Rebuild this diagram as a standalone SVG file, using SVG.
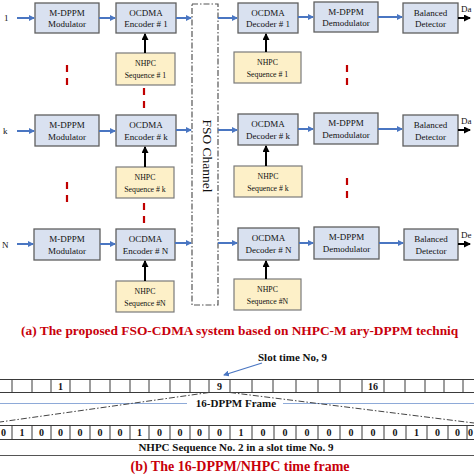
<svg xmlns="http://www.w3.org/2000/svg" width="474" height="474" viewBox="0 0 474 474">
<style>
text{font-family:"Liberation Serif","Times New Roman",serif;fill:#111}
.bx{fill:#d9e1f0;stroke:#5f5f5f;stroke-width:1.3}
.sq{fill:#fdf0c8;stroke:#7a7a7a;stroke-width:1.2}
.t9{font-size:9px;text-anchor:middle}
.t8{font-size:7.8px;text-anchor:middle}
.ba{stroke:#4a76c2;stroke-width:2;fill:none;marker-end:url(#ab)}
.ka{stroke:#000;stroke-width:2;fill:none;marker-end:url(#ak)}
.rd{stroke:#c00000;stroke-width:2.2;stroke-dasharray:7 6;fill:none}
.cell{fill:none;stroke:#3a3a3a;stroke-width:1}
.d{font-size:10px;font-weight:bold;text-anchor:middle}
.red{fill:#c8000a;font-weight:bold;font-size:14px}
</style>
<defs>
<marker id="ab" markerWidth="6" markerHeight="6" refX="5" refY="3" orient="auto" markerUnits="userSpaceOnUse"><path d="M0,0 L6,3 L0,6 z" fill="#4a76c2"/></marker>
<marker id="ak" markerWidth="7" markerHeight="7" refX="6" refY="3.5" orient="auto" markerUnits="userSpaceOnUse"><path d="M0,0 L7,3.5 L0,7 z" fill="#000"/></marker>
</defs>
<rect width="474" height="474" fill="#fff"/>

<!-- FSO channel -->
<g id="fso">
<rect x="192" y="4" width="26" height="301" fill="none" stroke="#555" stroke-width="1.2" stroke-dasharray="6 2 1.5 2"/>
<text transform="translate(203,156) rotate(90)" font-size="13.5px" text-anchor="middle">FSO Channel</text>
</g>

<!-- Row 1 -->
<text x="4" y="21" font-size="9px">1</text>
<g id="mod1"><rect class="bx" x="35" y="3" width="64" height="30"/><text class="t9" x="67" y="15.5">M-DPPM</text><text class="t9" x="67" y="27">Modulator</text></g>
<g id="enc1"><rect class="bx" x="116" y="3" width="60" height="30"/><text class="t9" x="146" y="15.5">OCDMA</text><text class="t9" x="146" y="27">Encoder # 1</text></g>
<g id="seqe1"><rect class="sq" x="116" y="53" width="59" height="32"/><text class="t8" x="145.5" y="66">NHPC</text><text class="t8" x="145.5" y="78">Sequence # 1</text></g>
<g id="dec1"><rect class="bx" x="238" y="3" width="60" height="30"/><text class="t9" x="268" y="15.5">OCDMA</text><text class="t9" x="268" y="27">Decoder # 1</text></g>
<g id="dem1"><rect class="bx" x="314" y="2" width="64" height="30"/><text class="t9" x="346" y="14.5">M-DPPM</text><text class="t9" x="346" y="26">Demodulator</text></g>
<g id="bal1"><rect class="bx" x="403" y="3" width="55" height="30"/><text class="t9" x="430.5" y="15.5">Balanced</text><text class="t9" x="430.5" y="27">Detector</text></g>
<g id="seqd1"><rect class="sq" x="234" y="52" width="67" height="31"/><text class="t8" x="267.5" y="65">NHPC</text><text class="t8" x="267.5" y="77">Sequence # 1</text></g>
<text x="461" y="12" font-size="9px">Da</text>

<!-- Row k -->
<text x="3" y="134" font-size="9px">k</text>
<g id="modk"><rect class="bx" x="35" y="115" width="64" height="31"/><text class="t9" x="67" y="128">M-DPPM</text><text class="t9" x="67" y="139.5">Modulator</text></g>
<g id="enck"><rect class="bx" x="116" y="115" width="60" height="31"/><text class="t9" x="146" y="128">OCDMA</text><text class="t9" x="146" y="139.5">Encoder # k</text></g>
<g id="seqek"><rect class="sq" x="116" y="167" width="58" height="31"/><text class="t8" x="145" y="180">NHPC</text><text class="t8" x="145" y="192">Sequence # k</text></g>
<g id="deck"><rect class="bx" x="238" y="114" width="60" height="31"/><text class="t9" x="268" y="127">OCDMA</text><text class="t9" x="268" y="138.5">Decoder # k</text></g>
<g id="demk"><rect class="bx" x="314" y="113" width="64" height="31"/><text class="t9" x="346" y="126">M-DPPM</text><text class="t9" x="346" y="137.5">Demodulator</text></g>
<g id="balk"><rect class="bx" x="403" y="115" width="55" height="31"/><text class="t9" x="430.5" y="128">Balanced</text><text class="t9" x="430.5" y="139.5">Detector</text></g>
<g id="seqdk"><rect class="sq" x="234" y="166" width="68" height="31"/><text class="t8" x="268" y="179">NHPC</text><text class="t8" x="268" y="191">Sequence # k</text></g>
<text x="461" y="124" font-size="9px">Da</text>

<!-- Row N -->
<text x="2" y="248" font-size="9px">N</text>
<g id="modN"><rect class="bx" x="34" y="229" width="66" height="31"/><text class="t9" x="67" y="242">M-DPPM</text><text class="t9" x="67" y="253.5">Modulator</text></g>
<g id="encN"><rect class="bx" x="116" y="229" width="59" height="31"/><text class="t9" x="145.5" y="242">OCDMA</text><text class="t9" x="145.5" y="253.5">Encoder # N</text></g>
<g id="seqeN"><rect class="sq" x="116" y="281" width="58" height="31"/><text class="t8" x="145" y="294">NHPC</text><text class="t8" x="145" y="306">Sequence #N</text></g>
<g id="decN"><rect class="bx" x="238" y="228" width="61" height="32"/><text class="t9" x="268.5" y="241">OCDMA</text><text class="t9" x="268.5" y="253">Decoder # N</text></g>
<g id="demN"><rect class="bx" x="314" y="227" width="65" height="32"/><text class="t9" x="346.5" y="240">M-DPPM</text><text class="t9" x="346.5" y="252">Demodulator</text></g>
<g id="balN"><rect class="bx" x="404" y="229" width="54" height="31"/><text class="t9" x="431" y="242">Balanced</text><text class="t9" x="431" y="253.5">Detector</text></g>
<g id="seqdN"><rect class="sq" x="234" y="279" width="67" height="31"/><text class="t8" x="267.5" y="292">NHPC</text><text class="t8" x="267.5" y="304">Sequence #N</text></g>
<text x="461" y="238" font-size="9px">De</text>

<!-- connectors -->
<g id="connectors">
<path class="ba" d="M17,18 H34"/><path class="ba" d="M99,18 H115"/><path class="ba" d="M176,18 H191"/><path class="ba" d="M218,18 H237"/><path class="ba" d="M298,17 H313"/><path class="ba" d="M378,17 H402"/>
<path class="ka" d="M458,18 H470"/><path class="ka" d="M145,53 V34"/><path class="ka" d="M266,52 V34"/>
<path class="ba" d="M17,131 H34"/><path class="ba" d="M99,131 H115"/><path class="ba" d="M176,130 H191"/><path class="ba" d="M218,130 H237"/><path class="ba" d="M298,129 H313"/><path class="ba" d="M378,129 H402"/>
<path class="ka" d="M458,130 H470"/><path class="ka" d="M145,167 V147"/><path class="ka" d="M266,166 V146"/>
<path class="ba" d="M17,244 H33"/><path class="ba" d="M100,244 H115"/><path class="ba" d="M175,243 H191"/><path class="ba" d="M218,243 H237"/><path class="ba" d="M299,243 H313"/><path class="ba" d="M379,243 H403"/>
<path class="ka" d="M458,244 H470"/><path class="ka" d="M145,281 V261"/><path class="ka" d="M266,279 V261"/>
</g>

<!-- red continuation dashes -->
<g id="dots">
<path class="rd" d="M67,65 V87"/><path class="rd" d="M67,182 V204"/>
<path class="rd" d="M144,88 V111"/><path class="rd" d="M144,203 V226"/>
<path class="rd" d="M347,65 V87"/><path class="rd" d="M347,178 V200"/>
</g>

<text class="red" x="21" y="335" style="font-size:13.4px">(a) The proposed FSO-CDMA system based on NHPC-M ary-DPPM techniq</text>

<!-- (b) time frame -->
<g id="frame">
<text x="258" y="361" font-size="11px" font-weight="bold">Slot time No, 9</text>
<path d="M262,363 L224,375" stroke="#4a76c2" stroke-width="1.2" marker-end="url(#ab)"/>
<path class="cell" d="M0,379.5 H474 M0,392.5 H474 M12,379.5 V392.5 M32,379.5 V392.5 M51,379.5 V392.5 M70,379.5 V392.5 M90,379.5 V392.5 M110,379.5 V392.5 M130,379.5 V392.5 M149,379.5 V392.5 M170,379.5 V392.5 M190,379.5 V392.5 M209,379.5 V392.5 M230,379.5 V392.5 M252,379.5 V392.5 M273,379.5 V392.5 M296,379.5 V392.5 M318,379.5 V392.5 M340,379.5 V392.5 M362,379.5 V392.5 M384,379.5 V392.5 M405,379.5 V392.5 M425,379.5 V392.5 M444,379.5 V392.5 M463,379.5 V392.5"/>
<text class="d" x="60.5" y="389.5">1</text><text class="d" x="219.5" y="389.5">9</text><text class="d" x="373" y="389.5">16</text>
<path d="M0,403.5 H187 M283,403.5 H474" stroke="#8eaad8" stroke-width="1.2"/>
<text x="236" y="407" font-size="11px" font-weight="bold" text-anchor="middle">16-DPPM Frame</text>
<path d="M209,392.5 L0,422 M230,392.5 L474,423" stroke="#444" stroke-width="1" stroke-dasharray="6 2 1.5 2" fill="none"/>
<path class="cell" d="M0,425.5 H474 M0,439.5 H474 M12,425.5 V439.5 M32,425.5 V439.5 M51,425.5 V439.5 M70,425.5 V439.5 M90,425.5 V439.5 M110,425.5 V439.5 M130,425.5 V439.5 M149,425.5 V439.5 M170,425.5 V439.5 M190,425.5 V439.5 M209,425.5 V439.5 M230,425.5 V439.5 M252,425.5 V439.5 M274,425.5 V439.5 M296,425.5 V439.5 M318,425.5 V439.5 M340,425.5 V439.5 M362,425.5 V439.5 M384,425.5 V439.5 M406,425.5 V439.5 M427,425.5 V439.5 M448,425.5 V439.5 M467,425.5 V439.5"/>
<g class="bits">
<text class="d" x="3.5" y="435.5">0</text><text class="d" x="22" y="435.5">1</text><text class="d" x="41.5" y="435.5">0</text><text class="d" x="60.5" y="435.5">0</text><text class="d" x="80" y="435.5">0</text><text class="d" x="100" y="435.5">0</text><text class="d" x="120" y="435.5">0</text><text class="d" x="139.5" y="435.5">1</text><text class="d" x="159.5" y="435.5">0</text><text class="d" x="180" y="435.5">0</text><text class="d" x="199.5" y="435.5">0</text><text class="d" x="219.5" y="435.5">0</text><text class="d" x="241" y="435.5">1</text><text class="d" x="263" y="435.5">0</text><text class="d" x="285" y="435.5">0</text><text class="d" x="307" y="435.5">0</text><text class="d" x="329" y="435.5">0</text><text class="d" x="351" y="435.5">0</text><text class="d" x="373" y="435.5">0</text><text class="d" x="395" y="435.5">0</text><text class="d" x="416.5" y="435.5">1</text><text class="d" x="437.5" y="435.5">0</text><text class="d" x="457.5" y="435.5">0</text><text class="d" x="470.5" y="435.5">0</text>
</g>
<text x="236" y="451" font-size="11px" font-weight="bold" text-anchor="middle">NHPC Sequence No. 2 in a slot time No. 9</text>
<path d="M0,455.5 H474" stroke="#555" stroke-width="1"/>
</g>
<text class="red" x="240" y="471" text-anchor="middle">(b) The 16-DPPM/NHPC time frame</text>
</svg>
